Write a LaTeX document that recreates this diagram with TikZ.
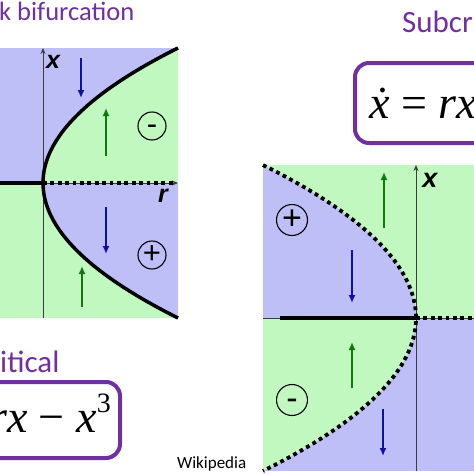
\documentclass[tikz,border=0pt]{standalone}
\usepackage{fontspec}
\setmainfont{Carlito}
\newfontfamily\eqfont{Liberation Serif}
\newfontfamily\axfont{Liberation Sans}
\usetikzlibrary{arrows.meta}
\definecolor{bluefill}{RGB}{191,191,247}
\definecolor{greenfill}{RGB}{192,248,192}
\definecolor{flowblue}{RGB}{15,15,165}
\definecolor{flowgreen}{RGB}{15,120,15}
\definecolor{titlepurple}{RGB}{112,48,160}
\definecolor{axisgray}{RGB}{60,60,60}

\begin{document}
\begin{tikzpicture}[
    x = 1pt, y = -1pt, % one unit per pixel, origin top left
    bluezone/.style = {fill = bluefill},
    greenzone/.style = {fill = greenfill},
    axisline/.style = {draw = axisgray, line width = 0.8pt},
    axisarrow/.style = {axisline, -{Stealth[length=6pt,width=5pt]}},
    solidbranch/.style = {draw = black, line width = 3.5pt},
    dotbranch/.style = {draw = black, line width = 3.8pt, dash pattern = on 3.8pt off 3.6pt},
    flowdown/.style = {draw = flowblue, line width = 2.8pt, -{Latex[length=8pt,width=7pt]}},
    flowup/.style = {draw = flowgreen, line width = 2.8pt, -{Latex[length=8pt,width=7pt]}},
    signbig/.style = {circle, draw = black, line width = 1.1pt, minimum size = 31pt, inner sep = 0pt,
                      font = \axfont\fontsize{34}{34}\selectfont},
    signsmall/.style = {signbig, minimum size = 28pt, font = \axfont\fontsize{31}{31}\selectfont},
    axislabel/.style = {font = \axfont\bfseries\itshape\fontsize{27}{27}\selectfont, inner sep = 0pt},
    title/.style = {anchor = base west, inner sep = 0pt, text = titlepurple},
    eqbox/.style = {draw = titlepurple, line width = 4pt, rounded corners = 14pt, fill = white},
    eqtext/.style = {inner sep = 0pt, font = \eqfont\fontsize{46}{50}\selectfont}
    ]
    \useasboundingbox (0,0) rectangle (474,474);
    \clip (0,0) rectangle (474,474);

    % supercritical plot
    \coordinate (sv) at (43,183);
    \fill[bluezone] (-5,48) rectangle (178,183);
    \fill[greenzone] (-5,183) rectangle (178,318);
    \fill[greenzone] (sv) .. controls (43,138) and (88,93) .. (178,48) -- (178,183) -- cycle;
    \fill[bluezone] (sv) .. controls (43,228) and (88,273) .. (178,318) -- (178,183) -- cycle;
    \draw[axisarrow] (43,318) -- (43,48);
    \draw[axisarrow] (-5,183) -- (178,183);
    \draw[solidbranch] (-5,183) -- (sv);
    \draw[dotbranch] (sv) -- (173,183);
    \draw[solidbranch] (178,48) .. controls (88,93) and (43,138) .. (sv)
        .. controls (43,228) and (88,273) .. (178,318);
    \draw[flowdown] (81,58) -- (81,98);
    \draw[flowup] (106,156) -- (106,108);
    \draw[flowdown] (106,207) -- (106,254);
    \draw[flowup] (82,307) -- (82,266);
    \node[signsmall] (supminus) at (152,126) {\vphantom{+}-};
    \node[signsmall] (supplus) at (152,255) {+};
    \node[axislabel, font = \axfont\bfseries\itshape\fontsize{25}{25}\selectfont] (supx) at (53,62) {x};
    \node[axislabel, font = \axfont\bfseries\itshape\fontsize{25}{25}\selectfont] (supr) at (163,196) {r};

    % subcritical plot
    \coordinate (bv) at (416,318);
    \fill[greenzone] (263,165) rectangle (480,318);
    \fill[bluezone] (263,318) rectangle (480,471);
    \fill[bluezone] (bv) .. controls (416,267) and (365,216) .. (263,165) -- (263,318) -- cycle;
    \fill[greenzone] (bv) .. controls (416,369) and (365,420) .. (263,471) -- (263,318) -- cycle;
    \draw[axisarrow] (416,471) -- (416,165);
    \draw[axisline] (263,318) -- (480,318);
    \draw[solidbranch] (280,318) -- (bv);
    \draw[dotbranch] (bv) -- (480,318);
    \draw[dotbranch] (263,165) .. controls (365,216) and (416,267) .. (bv)
        .. controls (416,369) and (365,420) .. (263,471);
    \draw[flowup] (384,228) -- (384,172);
    \draw[flowdown] (352,250) -- (352,303);
    \draw[flowup] (352,388) -- (352,342);
    \draw[flowdown] (383,409) -- (383,456);
    \node[signbig] (subplus) at (292,220) {+};
    \node[signbig] (subminus) at (292,400) {\vphantom{+}-};
    \node[axislabel] (subx) at (430,180) {x};

    % titles and equations
    \node[title, font = \fontsize{26.5}{30}\selectfont] (suptitle) at (-1,20) {k bifurcation};
    \node[title, font = \fontsize{31}{36}\selectfont] (subtitle) at (402,32) {Subcr};
    \node[title, font = \fontsize{31}{36}\selectfont] (suptail) at (0,372) {itical};
    \draw[eqbox] (355,63) rectangle (495,143);
    \node[eqtext, anchor = base west] (subeq) at (369,118) {\itshape\.{x} \upshape= \itshape rx};
    \draw[eqbox] (-30,382) rectangle (120,458);
    \node[eqtext, anchor = base east] (supeq) at (111,432)
        {\itshape rx \upshape− \itshape x\upshape\raisebox{0.42em}{\fontsize{28}{28}\selectfont 3}};
    \node[anchor = base west, inner sep = 0pt, font = \fontsize{17}{20}\selectfont] (credit) at (177,468) {Wikipedia};
\end{tikzpicture}
\end{document}
